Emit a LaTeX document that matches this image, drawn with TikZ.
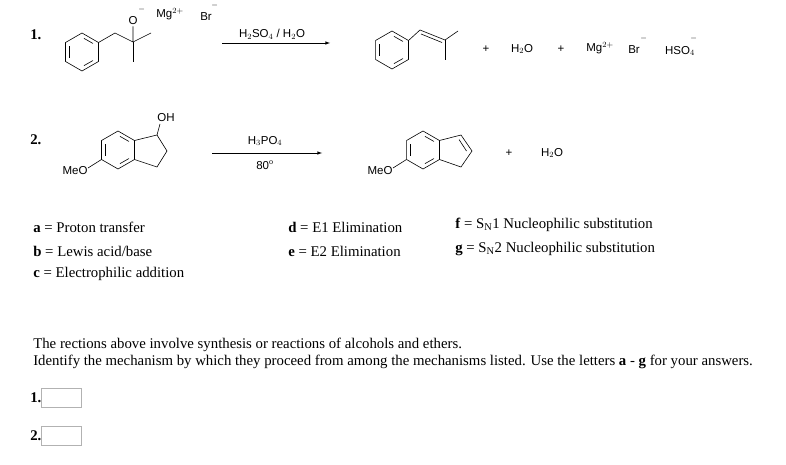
\documentclass[tikz,border=0pt]{standalone}
\usepackage{fontspec}
\setmainfont{Liberation Serif}
\newfontfamily\chemf{Liberation Sans}
\begin{document}
\begin{tikzpicture}[x=1pt,y=-1pt,line width=0.6pt,
  chem/.style={font=\chemf\fontsize{11.5}{13}\selectfont,inner sep=1pt},
  leg/.style={font=\fontsize{14.8}{17}\selectfont,anchor=west,inner sep=0pt},
  num/.style={font=\bfseries\fontsize{14.8}{17}\selectfont,anchor=west,inner sep=0pt},
  ansbox/.style={draw=gray!60,line width=0.5pt,minimum width=40pt,minimum height=19pt,inner sep=0pt}]
\useasboundingbox (0,0) rectangle (786,465);
% benzene: center, radius r, pointy top
\newcommand{\benz}[3]{%
 \draw (#1+0,#2-#3) -- (#1+0.866*#3,#2-0.5*#3) -- (#1+0.866*#3,#2+0.5*#3) -- (#1,#2+#3) -- (#1-0.866*#3,#2+0.5*#3) -- (#1-0.866*#3,#2-0.5*#3) -- cycle;
 \draw (#1+0.1*#3,#2-0.72*#3) -- (#1+0.575*#3,#2-0.45*#3);
 \draw (#1+0.575*#3,#2+0.45*#3) -- (#1+0.1*#3,#2+0.72*#3);
 \draw (#1-0.675*#3,#2-0.3*#3) -- (#1-0.675*#3,#2+0.3*#3);}
% ---- reaction 1
\node[num] (n1) at (30,35) {1.};
\benz{82}{52}{19}
\coordinate (r1) at (98.5,42.5);
\coordinate (ch2) at (115,33);
\coordinate (cq) at (133,42);
\node[chem] (o1) at (133,21) {O};
\draw (r1) -- (ch2) -- (cq) -- (o1);
\draw (cq) -- (151,33); \draw (cq) -- (133,62);
\node[chem] (m1) at (142,11) {$^-$};
\node[chem] (mg1) at (170,14) {Mg$^{2+}$};
\node[chem] (br1) at (206,17) {Br};
\node[chem] (bm1) at (215,7) {$^-$};
\coordinate (a1s) at (222,43); \coordinate (a1e) at (330,43);
\draw[-latex] (a1s) -- (a1e);
\node[chem] (c1) at (272,34) {H$_2$SO$_4$ / H$_2$O};
\benz{392}{50}{19}
\coordinate (p1) at (408.5,40.5); \coordinate (p2) at (420,30);
\coordinate (p3) at (445,40);
\draw (p1) -- (p2) -- (p3) -- (458,31); \draw (p3) -- (445,60);
\draw (421,34) -- (442,42.5);
\node[chem] at (486,49) {+};
\node[chem] at (522,49) {H$_2$O};
\node[chem] at (561,49) {+};
\node[chem] at (600,48) {Mg$^{2+}$};
\node[chem] at (634,50) {Br};
\node[chem] at (644,40) {$^-$};
\node[chem] at (680,51) {HSO$_4$};
\node[chem] at (694,40) {$^-$};
% ---- reaction 2
\node[num] (n2) at (30,140) {2.};
\benz{118}{150}{19}
\coordinate (u) at (134.5,140.5); \coordinate (l) at (134.5,159.5);
\coordinate (f1) at (157,135); \coordinate (f2) at (167,151); \coordinate (f3) at (157,167);
\draw (u) -- (f1) -- (f2) -- (f3) -- (l);
\draw (f1) -- (160,124);
\node[chem] (oh) at (166,118) {OH};
\draw (101.5,159.5) -- (88,168);
\node[chem] (meo1) at (75,171) {MeO};
\draw[-latex] (212,153) -- (322,153);
\node[chem] at (265,141) {H$_3$PO$_4$};
\node[chem] at (265,165) {80$^\mathrm{o}$};
\benz{423}{150}{19}
\coordinate (uu) at (439.5,140.5); \coordinate (ll) at (439.5,159.5);
\coordinate (g1) at (461,135); \coordinate (g2) at (472,151); \coordinate (g3) at (461,167);
\draw (uu) -- (g1) -- (g2) -- (g3) -- (ll);
\draw (459,139.5) -- (466.5,151);
\draw (406.5,159.5) -- (393,168);
\node[chem] at (380,171) {MeO};
\node[chem] at (509,153) {+};
\node[chem] at (552,153) {H$_2$O};
% ---- legend
\node[leg] at (33,227) {\textbf{a} = Proton transfer};
\node[leg] at (33,251) {\textbf{b} = Lewis acid/base};
\node[leg] at (33,274) {\textbf{c} = Electrophilic addition};
\node[leg] at (288,227) {\textbf{d} = E1 Elimination};
\node[leg] at (288,251) {\textbf{e} = E2 Elimination};
\node[leg] at (455,225) {\textbf{f} = S$_\mathrm{N}$1 Nucleophilic substitution};
\node[leg] at (455,249) {\textbf{g} = S$_\mathrm{N}$2 Nucleophilic substitution};
\node[leg] at (33,345) {The rections above involve synthesis or reactions of alcohols and ethers.};
\node[leg] at (33,362) {Identify the mechanism by which they proceed from among the mechanisms listed. Use the letters \textbf{a} - \textbf{g} for your answers.};
\node[num] at (30,398) {1.};
\node[ansbox] (b1) at (61,398) {};
\node[num] at (30,436) {2.};
\node[ansbox] (b2) at (61,436) {};
\end{tikzpicture}
\end{document}
